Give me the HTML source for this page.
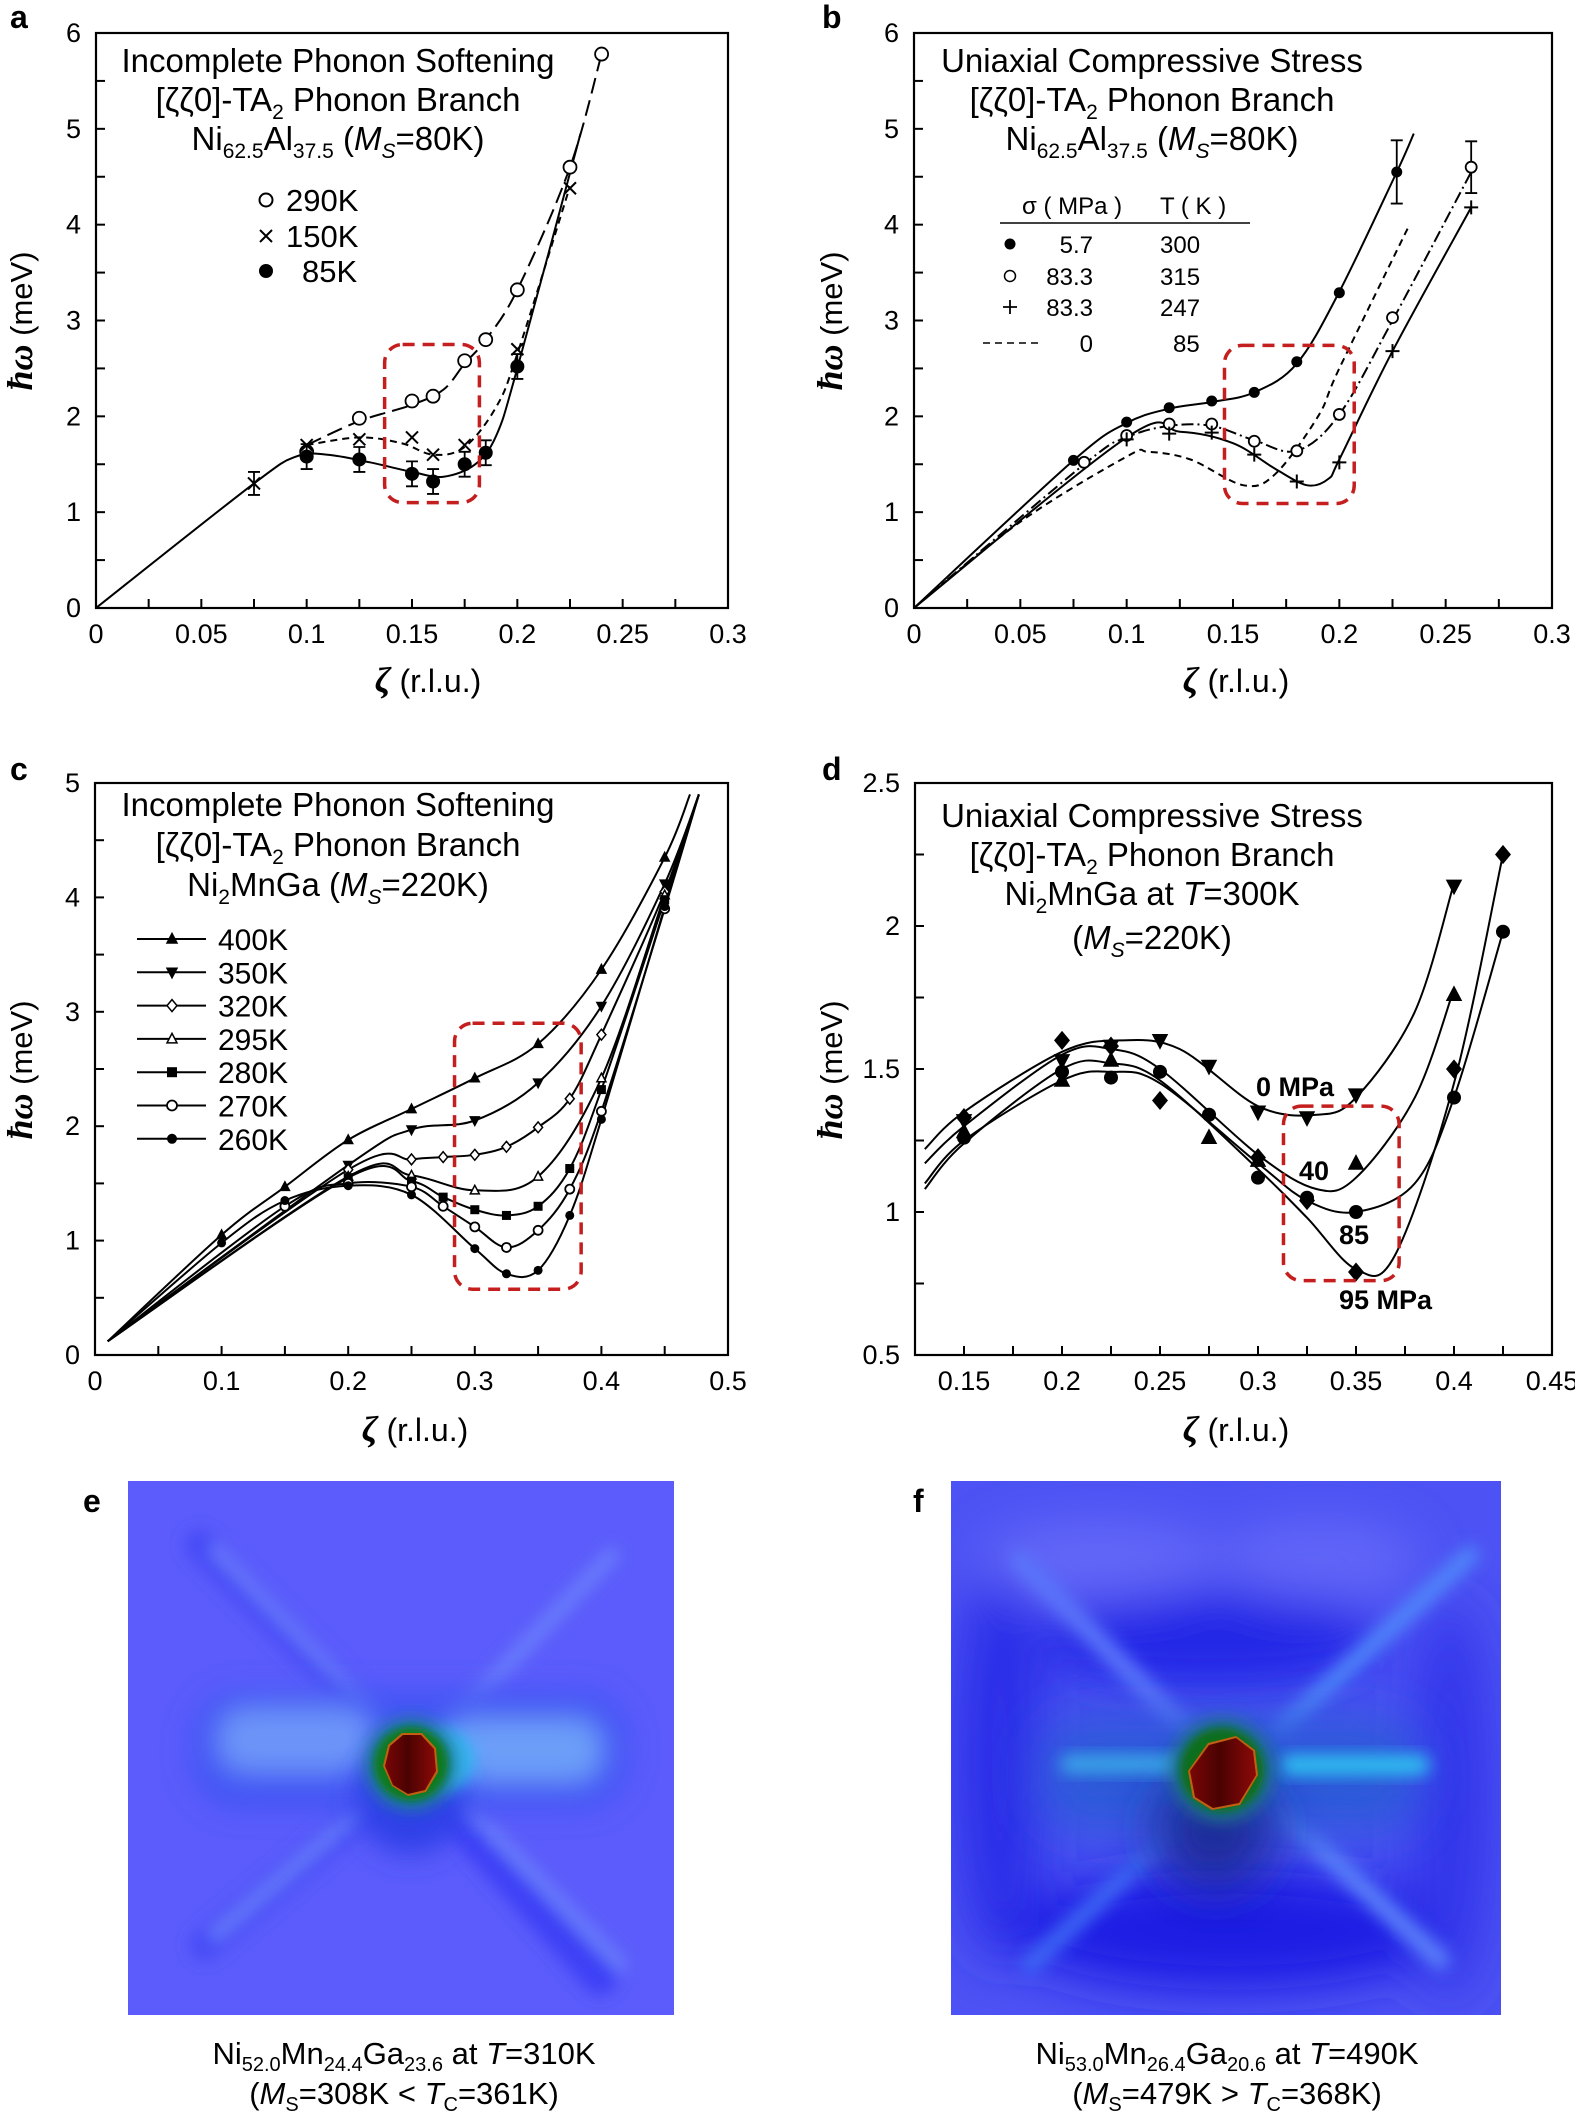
<!DOCTYPE html>
<html><head><meta charset="utf-8"><style>
html,body{margin:0;padding:0;background:#fff;}
svg{display:block;font-family:"Liberation Sans",sans-serif;}
</style></head><body>
<svg id="fig" width="1575" height="2114" viewBox="0 0 1575 2114" xmlns="http://www.w3.org/2000/svg">
<defs>
<filter id="b4" x="-50%" y="-50%" width="200%" height="200%"><feGaussianBlur stdDeviation="4"/></filter>
<filter id="b8" x="-50%" y="-50%" width="200%" height="200%"><feGaussianBlur stdDeviation="8"/></filter>
<filter id="b14" x="-50%" y="-50%" width="200%" height="200%"><feGaussianBlur stdDeviation="14"/></filter>
<filter id="b25" x="-50%" y="-50%" width="200%" height="200%"><feGaussianBlur stdDeviation="25"/></filter>
<linearGradient id="redg" x1="0" x2="1" y1="0" y2="0"><stop offset="0" stop-color="#7a0606"/><stop offset="0.45" stop-color="#4a0202"/><stop offset="1" stop-color="#8c0a08"/></linearGradient>
<clipPath id="clipE"><rect x="128" y="1481" width="546" height="534"/></clipPath>
<clipPath id="clipF"><rect x="951" y="1481" width="550" height="534"/></clipPath>
</defs>
<rect width="1575" height="2114" fill="#fff"/>

<text x="10" y="28" font-size="32" font-weight="bold">a</text>
<text x="822" y="28" font-size="32" font-weight="bold">b</text>
<text x="10" y="780" font-size="32" font-weight="bold">c</text>
<text x="822" y="780" font-size="32" font-weight="bold">d</text>
<text x="83" y="1512" font-size="32" font-weight="bold">e</text>
<text x="913" y="1512" font-size="32" font-weight="bold">f</text>

<g font-size="33" text-anchor="middle">
<text x="338" y="72">Incomplete Phonon Softening</text>
<text x="338" y="111">[ζζ0]-TA<tspan font-size="21" dy="8">2</tspan><tspan dy="-8"> Phonon Branch</tspan></text>
<text x="338" y="150">Ni<tspan font-size="21" dy="8">62.5</tspan><tspan dy="-8">Al</tspan><tspan font-size="21" dy="8">37.5</tspan><tspan dy="-8">  (</tspan><tspan font-style="italic">M</tspan><tspan font-size="21" font-style="italic" dy="8">S</tspan><tspan dy="-8">=80K)</tspan></text>
</g>
<g font-size="31">
<circle cx="266" cy="200" r="6.5" fill="#fff" stroke="#000" stroke-width="2"/><text x="286" y="211">290K</text>
<path d="M260,230 l12,12 M272,230 l-12,12" stroke="#000" stroke-width="2"/><text x="286" y="247">150K</text>
<circle cx="266" cy="271" r="7" fill="#000"/><text x="302" y="282">85K</text>
</g>

<g font-size="33" text-anchor="middle">
<text x="1152" y="72">Uniaxial Compressive Stress</text>
<text x="1152" y="111">[ζζ0]-TA<tspan font-size="21" dy="8">2</tspan><tspan dy="-8"> Phonon Branch</tspan></text>
<text x="1152" y="150">Ni<tspan font-size="21" dy="8">62.5</tspan><tspan dy="-8">Al</tspan><tspan font-size="21" dy="8">37.5</tspan><tspan dy="-8">  (</tspan><tspan font-style="italic">M</tspan><tspan font-size="21" font-style="italic" dy="8">S</tspan><tspan dy="-8">=80K)</tspan></text>
</g>
<g font-size="24">
<text x="1022" y="214">σ ( MPa )</text><text x="1160" y="214">T ( K )</text>
<line x1="1000" y1="223" x2="1250" y2="223" stroke="#000" stroke-width="1.5"/>
<circle cx="1010" cy="244" r="5.5" fill="#000"/><text x="1093" y="253" text-anchor="end">5.7</text><text x="1160" y="253">300</text>
<circle cx="1010" cy="276" r="5.5" fill="#fff" stroke="#000" stroke-width="1.5"/><text x="1093" y="285" text-anchor="end">83.3</text><text x="1160" y="285">315</text>
<path d="M1003,307 h14 M1010,300 v14" stroke="#000" stroke-width="1.8"/><text x="1093" y="316" text-anchor="end">83.3</text><text x="1160" y="316">247</text>
<line x1="983" y1="343" x2="1038" y2="343" stroke="#000" stroke-width="1.5" stroke-dasharray="7,5"/><text x="1093" y="352" text-anchor="end">0</text><text x="1173" y="352">85</text>
</g>

<g font-size="33" text-anchor="middle">
<text x="338" y="816">Incomplete Phonon Softening</text>
<text x="338" y="856">[ζζ0]-TA<tspan font-size="21" dy="8">2</tspan><tspan dy="-8"> Phonon Branch</tspan></text>
<text x="338" y="896">Ni<tspan font-size="21" dy="8">2</tspan><tspan dy="-8">MnGa  (</tspan><tspan font-style="italic">M</tspan><tspan font-size="21" font-style="italic" dy="8">S</tspan><tspan dy="-8">=220K)</tspan></text>
</g>
<g id="legendC" font-size="30"></g>

<g font-size="33" text-anchor="middle">
<text x="1152" y="827">Uniaxial Compressive Stress</text>
<text x="1152" y="866">[ζζ0]-TA<tspan font-size="21" dy="8">2</tspan><tspan dy="-8"> Phonon Branch</tspan></text>
<text x="1152" y="905">Ni<tspan font-size="21" dy="8">2</tspan><tspan dy="-8">MnGa at </tspan><tspan font-style="italic">T</tspan><tspan>=300K</tspan></text>
<text x="1152" y="949">(<tspan font-style="italic">M</tspan><tspan font-size="21" font-style="italic" dy="8">S</tspan><tspan dy="-8">=220K)</tspan></text>
</g>
<g font-size="27" font-weight="bold">
<text x="1256" y="1096">0 MPa</text>
<text x="1299" y="1180">40</text>
<text x="1339" y="1244">85</text>
<text x="1339" y="1309">95 MPa</text>
</g>

<g clip-path="url(#clipE)">
<rect x="128" y="1481" width="546" height="534" fill="#5b5cfb"/>
<g filter="url(#b8)" stroke-linecap="round">
<line x1="200" y1="1545" x2="395" y2="1740" stroke="#4448f6" stroke-width="30"/>
<line x1="215" y1="1550" x2="395" y2="1735" stroke="#6a7cfb" stroke-width="12"/>
<line x1="612" y1="1555" x2="440" y2="1735" stroke="#6a80fb" stroke-width="14"/>
<line x1="205" y1="1945" x2="390" y2="1790" stroke="#4448f6" stroke-width="30"/>
<line x1="215" y1="1935" x2="390" y2="1785" stroke="#6a80fb" stroke-width="12"/>
<line x1="600" y1="1978" x2="440" y2="1800" stroke="#3d41f6" stroke-width="34"/>
<line x1="620" y1="1965" x2="455" y2="1795" stroke="#6a7ffb" stroke-width="14"/>
</g>
<rect x="190" y="1690" width="440" height="120" rx="50" fill="#4254f4" filter="url(#b14)"/>
<rect x="215" y="1705" width="160" height="70" rx="30" fill="#6c94f8" filter="url(#b14)"/>
<rect x="440" y="1715" width="165" height="70" rx="30" fill="#6c9ef8" filter="url(#b14)"/>
<circle cx="411" cy="1800" r="55" fill="#2f40e8" filter="url(#b14)"/>
<circle cx="445" cy="1760" r="30" fill="#35b8f2" filter="url(#b8)"/>
<circle cx="411" cy="1764" r="46" fill="#1f7c9a" filter="url(#b8)"/>
<circle cx="411" cy="1764" r="37" fill="#0f7a1a" filter="url(#b4)"/>
<polygon points="388,1745 402,1733 422,1733 436,1748 438,1772 426,1792 408,1796 392,1786 383,1766" fill="#c06010"/>
<polygon points="390,1746 403,1735 421,1735 434,1749 436,1771 425,1790 408,1794 393,1785 385,1766" fill="url(#redg)"/>
</g>

<g clip-path="url(#clipF)">
<rect x="951" y="1481" width="550" height="534" fill="#4c52f3"/>
<g filter="url(#b25)">
<ellipse cx="1000" cy="1760" rx="45" ry="200" fill="#2a2ee8"/>
<ellipse cx="1210" cy="1640" rx="170" ry="50" fill="#2226e6"/>
<ellipse cx="1230" cy="1930" rx="220" ry="60" fill="#1c1ee4"/>
<ellipse cx="1450" cy="1800" rx="40" ry="200" fill="#3034ea"/>
<ellipse cx="1100" cy="1560" rx="120" ry="40" fill="#6468f8"/>
<ellipse cx="1320" cy="1560" rx="100" ry="40" fill="#6266f8"/>
</g>
<g filter="url(#b8)" stroke-linecap="round">
<line x1="1020" y1="1560" x2="1190" y2="1735" stroke="#5a74fa" stroke-width="20"/>
<line x1="1470" y1="1555" x2="1280" y2="1730" stroke="#4f86fa" stroke-width="18"/>
<line x1="1030" y1="1965" x2="1190" y2="1815" stroke="#3c66f4" stroke-width="18"/>
<line x1="1440" y1="1960" x2="1280" y2="1810" stroke="#5a80fa" stroke-width="20"/>
</g>
<rect x="1040" y="1720" width="380" height="110" rx="40" fill="#2c5ad8" filter="url(#b25)"/>
<circle cx="1215" cy="1830" r="60" fill="#1a2a9a" filter="url(#b25)"/>
<rect x="1280" y="1755" width="150" height="20" rx="10" fill="#2ec0f0" filter="url(#b8)"/>
<rect x="1060" y="1755" width="130" height="18" rx="9" fill="#3aa8e8" filter="url(#b8)"/>
<circle cx="1222" cy="1770" r="52" fill="#1a7088" filter="url(#b8)"/>
<circle cx="1222" cy="1770" r="42" fill="#0e6e1a" filter="url(#b4)"/>
<polygon points="1188,1771 1208,1743 1236,1736 1255,1750 1258,1775 1240,1805 1212,1810 1193,1798" fill="#c06010"/>
<polygon points="1190,1771 1209,1745 1236,1738 1253,1751 1256,1775 1239,1803 1213,1808 1195,1797" fill="url(#redg)"/>
</g>

<g font-size="31" text-anchor="middle">
<text x="404" y="2064">Ni<tspan font-size="20" dy="7">52.0</tspan><tspan dy="-7">Mn</tspan><tspan font-size="20" dy="7">24.4</tspan><tspan dy="-7">Ga</tspan><tspan font-size="20" dy="7">23.6</tspan><tspan dy="-7"> at </tspan><tspan font-style="italic">T</tspan>=310K</text>
<text x="404" y="2104">(<tspan font-style="italic">M</tspan><tspan font-size="20" dy="7">S</tspan><tspan dy="-7">=308K &lt; </tspan><tspan font-style="italic">T</tspan><tspan font-size="20" dy="7">C</tspan><tspan dy="-7">=361K)</tspan></text>
</g>
<g font-size="31" text-anchor="middle">
<text x="1227" y="2064">Ni<tspan font-size="20" dy="7">53.0</tspan><tspan dy="-7">Mn</tspan><tspan font-size="20" dy="7">26.4</tspan><tspan dy="-7">Ga</tspan><tspan font-size="20" dy="7">20.6</tspan><tspan dy="-7"> at </tspan><tspan font-style="italic">T</tspan>=490K</text>
<text x="1227" y="2104">(<tspan font-style="italic">M</tspan><tspan font-size="20" dy="7">S</tspan><tspan dy="-7">=479K &gt; </tspan><tspan font-style="italic">T</tspan><tspan font-size="20" dy="7">C</tspan><tspan dy="-7">=368K)</tspan></text>
</g>
</svg>
<script>
// ---------- Panel a data ----------
const aX290 = [0.1,0.125,0.15,0.16,0.175,0.185,0.2,0.225,0.24];
const aY290 = [1.63,1.98,2.16,2.21,2.58,2.8,3.32,4.6,5.78];
const aX150 = [0.075,0.1,0.125,0.15,0.16,0.175,0.2,0.225];
const aY150 = [1.3,1.7,1.76,1.78,1.6,1.7,2.7,4.38];
const aX85 = [0.1,0.125,0.15,0.16,0.175,0.185,0.2];
const aY85 = [1.58,1.55,1.4,1.32,1.5,1.62,2.52];
const aCurve85X = [0,0.075,0.095,0.11,0.13,0.15,0.165,0.18,0.19,0.2,0.23];
const aCurve85Y = [0,1.3,1.58,1.6,1.52,1.42,1.37,1.5,1.8,2.5,4.95];
const aCurve150X = [0.1,0.125,0.145,0.16,0.175,0.19,0.2,0.225];
const aCurve150Y = [1.7,1.78,1.72,1.6,1.68,2.1,2.65,4.4];
const aCurve290X = [0.1,0.125,0.15,0.165,0.175,0.185,0.2,0.225,0.24];
const aCurve290Y = [1.7,1.95,2.12,2.28,2.55,2.8,3.32,4.6,5.78];
const aXTicks = ["0","0.05","0.1","0.15","0.2","0.25","0.3"];
const aYTicks = ["0","1","2","3","4","5","6"];
// ---------- Panel b data ----------
const bXFill = [0.075,0.1,0.12,0.14,0.16,0.18,0.2,0.227];
const bYFill = [1.54,1.94,2.09,2.16,2.25,2.57,3.29,4.55];
const bXOpen = [0.08,0.1,0.12,0.14,0.16,0.18,0.2,0.225,0.262];
const bYOpen = [1.52,1.8,1.92,1.92,1.74,1.64,2.02,3.03,4.6];
const bXPlus = [0.1,0.12,0.14,0.16,0.18,0.2,0.225,0.262];
const bYPlus = [1.76,1.82,1.83,1.6,1.32,1.52,2.68,4.18];
const bCurveFillX = [0,0.075,0.1,0.12,0.14,0.16,0.18,0.2,0.227,0.235];
const bCurveFillY = [0,1.54,1.93,2.08,2.15,2.25,2.55,3.3,4.55,4.95];
const bCurveOpenX = [0,0.08,0.1,0.12,0.14,0.16,0.18,0.2,0.225,0.262];
const bCurveOpenY = [0,1.5,1.78,1.9,1.9,1.75,1.64,2.02,3.0,4.55];
const bCurvePlusX = [0,0.1,0.125,0.15,0.17,0.185,0.195,0.2,0.225,0.262];
const bCurvePlusY = [0,1.78,1.84,1.72,1.45,1.28,1.35,1.55,2.68,4.18];
const bCurveZeroX = [0,0.05,0.1,0.11,0.13,0.155,0.17,0.19,0.2,0.233];
const bCurveZeroY = [0,0.9,1.58,1.63,1.55,1.28,1.4,2.0,2.5,4.0];
const bXTicks = ["0","0.05","0.1","0.15","0.2","0.25","0.3"];
const bYTicks = ["0","1","2","3","4","5","6"];
// ---------- Panel c data ----------
const cNames = ["400K","350K","320K","295K","280K","270K","260K"];
const cMarkers = ["fu","fd","od","ou","fs","oc","fc"];
const cX400 = [0.1,0.15,0.2,0.25,0.3,0.35,0.4,0.45];
const cY400 = [1.05,1.47,1.88,2.15,2.42,2.72,3.37,4.35];
const cX350 = [0.2,0.25,0.3,0.35,0.4,0.45];
const cY350 = [1.66,1.97,2.05,2.38,3.05,4.12];
const cX320 = [0.2,0.25,0.275,0.3,0.325,0.35,0.375,0.4,0.45];
const cY320 = [1.62,1.71,1.73,1.75,1.82,1.99,2.24,2.8,4.05];
const cX295 = [0.2,0.25,0.3,0.35,0.4,0.45];
const cY295 = [1.56,1.57,1.44,1.56,2.42,4.02];
const cX280 = [0.2,0.25,0.275,0.3,0.325,0.35,0.375,0.4,0.45];
const cY280 = [1.55,1.52,1.38,1.27,1.22,1.3,1.63,2.32,3.98];
const cX270 = [0.15,0.2,0.25,0.275,0.3,0.325,0.35,0.375,0.4,0.45];
const cY270 = [1.3,1.5,1.47,1.3,1.12,0.94,1.09,1.45,2.13,3.9];
const cX260 = [0.1,0.15,0.2,0.25,0.3,0.325,0.35,0.375,0.4,0.45];
const cY260 = [0.98,1.35,1.48,1.4,0.93,0.71,0.74,1.22,2.06,3.92];
const cXTicks = ["0","0.1","0.2","0.3","0.4","0.5"];
const cYTicks = ["0","1","2","3","4","5"];
// ---------- Panel d data ----------
const dX0 = [0.15,0.2,0.225,0.25,0.275,0.3,0.325,0.35,0.4];
const dY0 = [1.32,1.53,1.58,1.6,1.51,1.35,1.33,1.41,2.14];
const dX40 = [0.15,0.2,0.225,0.275,0.3,0.35,0.4];
const dY40 = [1.28,1.46,1.53,1.26,1.18,1.17,1.76];
const dX85 = [0.15,0.2,0.225,0.25,0.275,0.3,0.325,0.35,0.4,0.425];
const dY85 = [1.26,1.49,1.47,1.49,1.34,1.12,1.05,1.0,1.4,1.98];
const dX95 = [0.15,0.2,0.225,0.25,0.3,0.325,0.35,0.4,0.425];
const dY95 = [1.33,1.6,1.58,1.39,1.19,1.04,0.79,1.5,2.25];
const dCurve0X = [0.13,0.15,0.2,0.23,0.26,0.3,0.33,0.35,0.38,0.4];
const dCurve0Y = [1.22,1.35,1.56,1.6,1.57,1.37,1.34,1.4,1.7,2.15];
const dCurve40X = [0.13,0.15,0.2,0.225,0.25,0.3,0.33,0.35,0.38,0.4];
const dCurve40Y = [1.17,1.3,1.55,1.57,1.5,1.2,1.08,1.12,1.4,1.78];
const dCurve85X = [0.13,0.15,0.2,0.225,0.25,0.3,0.325,0.35,0.38,0.4,0.425];
const dCurve85Y = [1.1,1.25,1.46,1.49,1.45,1.17,1.04,1.0,1.1,1.4,1.98];
const dCurve95X = [0.13,0.15,0.2,0.225,0.25,0.3,0.325,0.35,0.37,0.4,0.425];
const dCurve95Y = [1.08,1.24,1.5,1.52,1.46,1.15,0.98,0.8,0.85,1.45,2.25];
const dXTicks = ["0.15","0.2","0.25","0.3","0.35","0.4","0.45"];
const dYTicks = ["0.5","1","1.5","2","2.5"];

const NS = "http://www.w3.org/2000/svg";
const fig = document.getElementById('fig');
function mk(tag, attrs, parent){
  const e = document.createElementNS(NS, tag);
  for (const k in attrs) e.setAttribute(k, attrs[k]);
  (parent||fig).appendChild(e);
  return e;
}
function makeAxes(L,R,T,B,x0,x1,y0,y1){
  return {sx:v=>L+(v-x0)/(x1-x0)*(R-L), sy:v=>B-(v-y0)/(y1-y0)*(B-T), L,R,T,B};
}
function smoothPath(ax, xs, ys){
  const p = xs.map((x,i)=>[ax.sx(x), ax.sy(ys[i])]);
  let d = "M"+p[0][0].toFixed(1)+","+p[0][1].toFixed(1);
  for (let i=0;i<p.length-1;i++){
    const p0=p[Math.max(0,i-1)], p1=p[i], p2=p[i+1], p3=p[Math.min(p.length-1,i+2)];
    const c1=[p1[0]+(p2[0]-p0[0])/6, p1[1]+(p2[1]-p0[1])/6];
    const c2=[p2[0]-(p3[0]-p1[0])/6, p2[1]-(p3[1]-p1[1])/6];
    d += " C"+c1[0].toFixed(1)+","+c1[1].toFixed(1)+" "+c2[0].toFixed(1)+","+c2[1].toFixed(1)+" "+p2[0].toFixed(1)+","+p2[1].toFixed(1);
  }
  return d;
}
function marker(g, type, x, y, r){
  let e;
  const sw = 1.8;
  if (type==='oc') e=mk('circle',{cx:x,cy:y,r:r,fill:'#fff',stroke:'#000','stroke-width':sw},g);
  else if (type==='fc') e=mk('circle',{cx:x,cy:y,r:r,fill:'#000'},g);
  else if (type==='x') e=mk('path',{d:`M${x-r},${y-r}L${x+r},${y+r}M${x+r},${y-r}L${x-r},${y+r}`,stroke:'#000','stroke-width':2},g);
  else if (type==='+') e=mk('path',{d:`M${x-r},${y}H${x+r}M${x},${y-r}V${y+r}`,stroke:'#000','stroke-width':2},g);
  else if (type==='fu'||type==='ou') e=mk('polygon',{points:`${x},${y-r*1.1} ${x+r},${y+r*0.8} ${x-r},${y+r*0.8}`,fill:type==='fu'?'#000':'#fff',stroke:'#000','stroke-width':1.5},g);
  else if (type==='fd') e=mk('polygon',{points:`${x},${y+r*1.1} ${x+r},${y-r*0.8} ${x-r},${y-r*0.8}`,fill:'#000',stroke:'#000','stroke-width':1.5},g);
  else if (type==='od'||type==='fdm') e=mk('polygon',{points:`${x},${y-r*1.2} ${x+r},${y} ${x},${y+r*1.2} ${x-r},${y}`,fill:type==='fdm'?'#000':'#fff',stroke:'#000','stroke-width':1.5},g);
  else if (type==='fs') e=mk('rect',{x:x-r,y:y-r,width:2*r,height:2*r,fill:'#000'},g);
  
  
  return e;
}
function frame(name, ax, xTickVals, xLabels, xMinor, yTickVals, yLabels, yMinor, xLabelY){
  const g = mk('g',{});
  
  
  const fr = mk('rect',{x:ax.L,y:ax.T,width:ax.R-ax.L,height:ax.B-ax.T,fill:'none',stroke:'#000','stroke-width':2.2},g);
  
  
  xMinor.forEach(v=>{ const X=ax.sx(v); mk('line',{x1:X,y1:ax.B,x2:X,y2:ax.B-9,stroke:'#000','stroke-width':2},g); });
  yMinor.forEach(v=>{ const Y=ax.sy(v); mk('line',{x1:ax.L,y1:Y,x2:ax.L+9,y2:Y,stroke:'#000','stroke-width':2},g); });
  xTickVals.forEach((v,i)=>{
    const t = mk('text',{x:ax.sx(v),y:xLabelY,'font-size':27,'text-anchor':'middle'},g);
    t.textContent = xLabels[i];
    
    
  });
  yTickVals.forEach((v,i)=>{
    const t = mk('text',{x:ax.L-15,y:ax.sy(v)+9,'font-size':27,'text-anchor':'end'},g);
    t.textContent = yLabels[i];
    
    
  });
  return g;
}
function titles(name, cx, ty, yx, ycy){
  const xt = mk('text',{x:cx,y:ty,'font-size':32,'text-anchor':'middle'});
  xt.innerHTML = '<tspan font-style="italic" font-weight="bold" font-family="Liberation Serif, serif" font-size="36">ζ</tspan> (r.l.u.)';
  
  
  const yt = mk('text',{x:0,y:0,'font-size':31,'text-anchor':'middle',transform:`translate(${yx},${ycy}) rotate(-90)`});
  yt.innerHTML = '<tspan font-style="italic" font-weight="bold" font-family="Liberation Serif, serif" font-size="36">ħω</tspan> (meV)';
  
  
}
function curve(name, ax, xs, ys, dash, clip){
  const p = mk('path',{d:smoothPath(ax,xs,ys),fill:'none',stroke:'#000','stroke-width':2,'stroke-dasharray':dash||'none','clip-path':clip});
  
  
}
function redBox(name, ax, x0,x1,y0,y1){
  const r = mk('rect',{x:ax.sx(x0),y:ax.sy(y1),width:ax.sx(x1)-ax.sx(x0),height:ax.sy(y0)-ax.sy(y1),rx:18,fill:'none',stroke:'#c41e1e','stroke-width':3.5,'stroke-dasharray':'12,8'});
  
  
}
function clipFor(id, ax){
  const defs = fig.querySelector('defs');
  const cp = mk('clipPath',{id:id},defs);
  mk('rect',{x:ax.L,y:ax.T,width:ax.R-ax.L,height:ax.B-ax.T},cp);
  return `url(#${id})`;
}
function range(a,b,s){ const r=[]; for(let v=a; v<=b+1e-9; v+=s) r.push(+v.toFixed(4)); return r; }
function errbar(ax, x, y, e, g){
  const X=ax.sx(x), Y1=ax.sy(y-e), Y2=ax.sy(y+e);
  const p = mk('path',{d:`M${X},${Y1}V${Y2}M${X-6},${Y1}H${X+6}M${X-6},${Y2}H${X+6}`,stroke:'#000','stroke-width':1.8},g);
  
  
}
function series(name, ax, xs, ys, type, r, err){
  const g = mk('g',{});
  
  
  xs.forEach((x,i)=>{ if(err && err[i]) errbar(ax,x,ys[i],err[i],g); marker(g,type,ax.sx(x),ax.sy(ys[i]),r); });
}

// ===== Panel a =====
const axA = makeAxes(96,728,33,608,0,0.3,0,6);
frame('panel-a', axA, range(0,0.3,0.05), aXTicks, range(0.025,0.275,0.025), range(0,6,1), aYTicks, range(0.5,5.5,0.5), 643);
titles('panel-a', 428, 692, 32, 321);
const clA = clipFor('clipA', axA);
curve('curve-85K', axA, aCurve85X, aCurve85Y, null, clA);
curve('curve-150K', axA, aCurve150X, aCurve150Y, '7,5', clA);
curve('curve-290K', axA, aCurve290X, aCurve290Y, '16,7', clA);
series('series-290K', axA, aX290, aY290, 'oc', 6.5);
series('series-150K', axA, aX150, aY150, 'x', 6, aX150.map((x,i)=>i===0?0.12:0));
series('series-85K', axA, aX85, aY85, 'fc', 7, aX85.map(()=>0.13));
redBox('highlight-box-a', axA, 0.137, 0.182, 1.1, 2.75);

// ===== Panel b =====
const axB = makeAxes(914,1552,33,608,0,0.3,0,6);
frame('panel-b', axB, range(0,0.3,0.05), bXTicks, range(0.025,0.275,0.025), range(0,6,1), bYTicks, range(0.5,5.5,0.5), 643);
titles('panel-b', 1236, 692, 842, 321);
const clB = clipFor('clipB', axB);
curve('curve-5.7MPa', axB, bCurveFillX, bCurveFillY, null, clB);
curve('curve-83.3MPa-315K', axB, bCurveOpenX, bCurveOpenY, '12,4,2,4', clB);
curve('curve-83.3MPa-247K', axB, bCurvePlusX, bCurvePlusY, null, clB);
curve('curve-0MPa-85K', axB, bCurveZeroX, bCurveZeroY, '7,5', clB);
series('series-5.7MPa', axB, bXFill, bYFill, 'fc', 5.5, bXFill.map((x,i)=>i===bXFill.length-1?0.33:0));
series('series-83.3MPa-315K', axB, bXOpen, bYOpen, 'oc', 5.5, bXOpen.map((x,i)=>i===bXOpen.length-1?0.27:0));
series('series-83.3MPa-247K', axB, bXPlus, bYPlus, '+', 7);
redBox('highlight-box-b', axB, 0.146, 0.207, 1.09, 2.74);

// ===== Panel c =====
const axC = makeAxes(95,728,783,1355,0,0.5,0,5);
frame('panel-c', axC, range(0,0.5,0.1), cXTicks, range(0.05,0.45,0.05), range(0,5,1), cYTicks, range(0.5,4.5,0.5), 1390);
titles('panel-c', 415, 1441, 32, 1070);
const clC = clipFor('clipC', axC);
const cXs = [cX400,cX350,cX320,cX295,cX280,cX270,cX260];
const cYs = [cY400,cY350,cY320,cY295,cY280,cY270,cY260];
cXs.forEach((xs,k)=>{
  const endX = k===0 ? 0.47 : 0.477;
  curve('curve-'+cNames[k], axC, [0.01].concat(xs,[endX]), [0.12].concat(cYs[k],[4.9]), null, clC);
});
cXs.forEach((xs,k)=>{ series('series-'+cNames[k], axC, xs, cYs[k], cMarkers[k], 4.5); });
const legC = document.getElementById('legendC');
cNames.forEach((n,k)=>{
  const y = 939 + k*33.3;
  mk('line',{x1:137,y1:y,x2:206,y2:y,stroke:'#000','stroke-width':2},legC);
  marker(legC, cMarkers[k], 172, y, 5);
  const t = mk('text',{x:218,y:y+11},legC);
  t.textContent = n;
  
  
});
redBox('highlight-box-c', axC, 0.284, 0.384, 0.575, 2.9);

// ===== Panel d =====
const axD = makeAxes(915,1552,783,1355,0.125,0.45,0.5,2.5);
frame('panel-d', axD, range(0.15,0.45,0.05), dXTicks, range(0.15,0.425,0.025), range(0.5,2.5,0.5), dYTicks, range(0.75,2.25,0.25), 1390);
titles('panel-d', 1236, 1441, 842, 1070);
const clD = clipFor('clipD', axD);
curve('curve-0MPa', axD, dCurve0X, dCurve0Y, null, clD);
curve('curve-40MPa', axD, dCurve40X, dCurve40Y, null, clD);
curve('curve-85MPa', axD, dCurve85X, dCurve85Y, null, clD);
curve('curve-95MPa', axD, dCurve95X, dCurve95Y, null, clD);
series('series-0MPa', axD, dX0, dY0, 'fd', 7);
series('series-40MPa', axD, dX40, dY40, 'fu', 7);
series('series-85MPa', axD, dX85, dY85, 'fc', 7);
series('series-95MPa', axD, dX95, dY95, 'fdm', 7);
redBox('highlight-box-d', axD, 0.313, 0.372, 0.76, 1.37);
</script>
</body></html>
